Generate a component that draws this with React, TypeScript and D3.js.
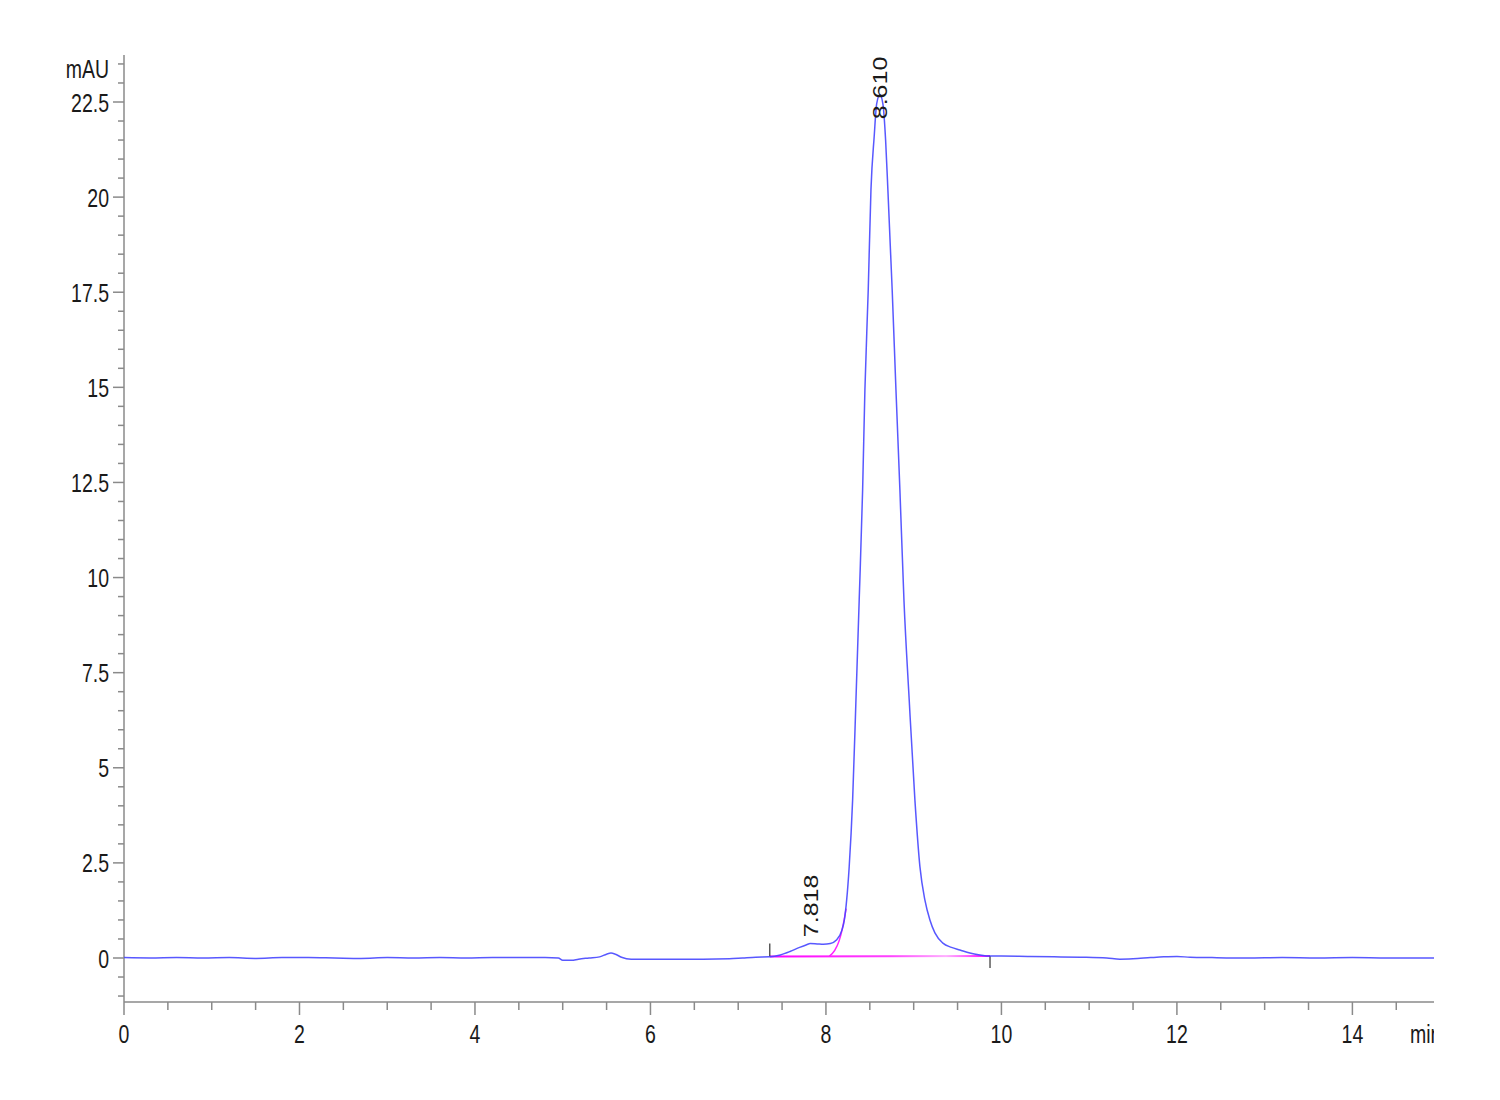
import React from 'react';
import * as d3 from 'd3';

// retention time (min) and absorbance (mAU)
const timeMin = [
  0, 0.3, 0.6, 0.9, 1.2, 1.5, 1.8, 2.1, 2.4, 2.7, 3.0, 3.3, 3.6, 3.9, 4.2, 4.5, 4.8,
  4.95, 5.0, 5.1, 5.18, 5.3, 5.42, 5.5, 5.55, 5.6, 5.67, 5.78, 6.0, 6.3, 6.6, 6.9,
  7.05, 7.2, 7.36, 7.48, 7.59, 7.7, 7.78, 7.82, 7.9, 7.97, 8.05, 8.12, 8.18, 8.21,
  8.236, 8.265, 8.304, 8.342, 8.379, 8.418, 8.444, 8.482, 8.513, 8.55, 8.578, 8.615,
  8.649, 8.68, 8.706, 8.755, 8.798, 8.843, 8.889, 8.949, 9.014, 9.071, 9.128, 9.185,
  9.242, 9.333, 9.43, 9.527, 9.64, 9.755, 9.87, 10.0, 10.3, 10.6, 10.9, 11.2, 11.35,
  11.5, 11.7, 11.85, 12.0, 12.15, 12.4, 12.8, 13.2, 13.6, 14.0, 14.4, 14.93,
];
const signalMau = [
  0.01, 0.0, 0.01, 0.0, 0.01, -0.01, 0.01, 0.01, 0.0, -0.01, 0.01, 0.0, 0.01, 0.0, 0.01, 0.01, 0.01,
  0.0, -0.06, -0.06, -0.03, 0.0, 0.03, 0.1, 0.13, 0.1, 0.02, -0.03, -0.03, -0.03, -0.03, -0.02,
  0.0, 0.02, 0.03, 0.08, 0.17, 0.28, 0.35, 0.38, 0.37, 0.36, 0.38, 0.47, 0.72, 1.0,
  1.52, 2.4, 4.15, 6.78, 9.41, 12.3, 14.93, 17.56, 20.19, 21.6, 22.45, 22.7,
  22.45, 21.5, 20.19, 17.56, 14.93, 12.3, 9.41, 6.78, 4.15, 2.4, 1.52, 1.0,
  0.66, 0.39, 0.28, 0.21, 0.13, 0.08, 0.05, 0.05, 0.04, 0.03, 0.02, 0.0, -0.03,
  -0.02, 0.01, 0.03, 0.04, 0.02, 0.01, 0.0, 0.01, 0.0, 0.01, 0.0, 0.0,
];

// integration baseline and peak start skim
const baselineTime = [7.36, 9.87];
const baselineMau = [0.04, 0.05];
const skimTime = [8.04, 8.1, 8.15, 8.19, 8.23];
const skimMau = [0.05, 0.2, 0.45, 0.8, 1.3];

const peakTimes = [7.818, 8.61];
const peakLabels = ['7.818', '8.610'];
const peakLabelMau = [0.6, 22.1];

const xTicks = [0, 2, 4, 6, 8, 10, 12, 14];
const yTicks = [0, 2.5, 5, 7.5, 10, 12.5, 15, 17.5, 20, 22.5];

const W = 1500;
const H = 1100;
const FONT = '"Liberation Sans", Arial, sans-serif';

export default function App() {
  const x = d3.scaleLinear().domain([0, 14.93]).range([124, 1434]);
  const y = d3.scaleLinear().domain([0, 22.5]).range([958, 102]);
  const yTop = 55;
  const yBottom = 1002;

  const trace = timeMin.map((t, i) => [t, signalMau[i]] as [number, number]);
  const line = d3.line<[number, number]>()
    .x(d => x(d[0]))
    .y(d => y(d[1]))
    .curve(d3.curveMonotoneX);

  const skim = skimTime.map((t, i) => [t, skimMau[i]] as [number, number]);

  const yMinor = d3.range(-1, 23.75, 0.5);
  const xMinor = d3.range(0, 14.75, 0.5);
  const axisColor = '#8a8a8a';

  return (
    <svg width={W} height={H} style={{ position: 'absolute', left: 0, top: 0, background: '#fff' }}>
      <defs>
        <linearGradient id="bl" x1="0" x2="1" y1="0" y2="0">
          <stop offset="0" stopColor="#ff00ff" />
          <stop offset="0.55" stopColor="#ff44ff" />
          <stop offset="0.8" stopColor="#ffb0ff" />
          <stop offset="1" stopColor="#ff00ff" />
        </linearGradient>
        <clipPath id="xlab">
          <rect x={1390} y={1010} width={44} height={50} />
        </clipPath>
      </defs>

      {/* y axis */}
      <line x1={124} x2={124} y1={yTop} y2={yBottom} stroke={axisColor} strokeWidth={1.5} />
      {yMinor.map(v => {
        const major = Math.abs(v / 2.5 - Math.round(v / 2.5)) < 1e-6;
        return (
          <line key={'ym' + v} x1={major ? 113 : 118} x2={124} y1={y(v)} y2={y(v)}
            stroke={axisColor} strokeWidth={1.5} />
        );
      })}
      {yTicks.map(v => (
        <text key={'yl' + v} transform={`translate(109,${y(v) + 9.5}) scale(0.75,1)`}
          textAnchor="end" fontFamily={FONT} fontSize={26} fill="#1a1a1a">{v}</text>
      ))}
      <text transform="translate(109,78) scale(0.75,1)" textAnchor="end"
        fontFamily={FONT} fontSize={26} fill="#1a1a1a">mAU</text>

      {/* x axis */}
      <line x1={124} x2={1434} y1={yBottom} y2={yBottom} stroke={axisColor} strokeWidth={1.5} />
      {xMinor.map(t => {
        const major = Math.abs(t / 2 - Math.round(t / 2)) < 1e-6;
        return (
          <line key={'xm' + t} x1={x(t)} x2={x(t)} y1={yBottom} y2={yBottom + (major ? 13 : 8)}
            stroke={axisColor} strokeWidth={1.5} />
        );
      })}
      {xTicks.map(t => (
        <text key={'xl' + t} transform={`translate(${x(t)},1043) scale(0.75,1)`}
          textAnchor="middle" fontFamily={FONT} fontSize={26} fill="#1a1a1a">{t}</text>
      ))}
      <g clipPath="url(#xlab)">
        <text transform="translate(1410,1043) scale(0.75,1)" fontFamily={FONT} fontSize={26} fill="#1a1a1a">min</text>
      </g>

      {/* integration baseline */}
      <line x1={x(baselineTime[0])} x2={x(baselineTime[1])}
        y1={y(baselineMau[0])} y2={y(baselineMau[1])} stroke="url(#bl)" strokeWidth={2} />
      <path d={line(skim) ?? ''} fill="none" stroke="#ff22ff" strokeWidth={1.5} />
      <line x1={x(baselineTime[0])} x2={x(baselineTime[0])} y1={y(baselineMau[0])} y2={y(baselineMau[0]) - 13}
        stroke="#333" strokeWidth={1.2} />
      <line x1={x(baselineTime[1])} x2={x(baselineTime[1])} y1={y(baselineMau[1])} y2={y(baselineMau[1]) + 12}
        stroke="#333" strokeWidth={1.2} />

      {/* chromatogram trace */}
      <path d={line(trace) ?? ''} fill="none" stroke="#4646ff" strokeWidth={1.5} strokeOpacity={0.9} />

      {/* peak retention time labels */}
      {peakTimes.map((t, i) => (
        <text key={'pk' + i}
          transform={`translate(${x(t) + 8},${y(peakLabelMau[i]) + 2}) scale(0.8,1) rotate(-90)`}
          fontFamily={FONT} fontSize={25} fill="#1a1a1a">{peakLabels[i]}</text>
      ))}
    </svg>
  );
}
